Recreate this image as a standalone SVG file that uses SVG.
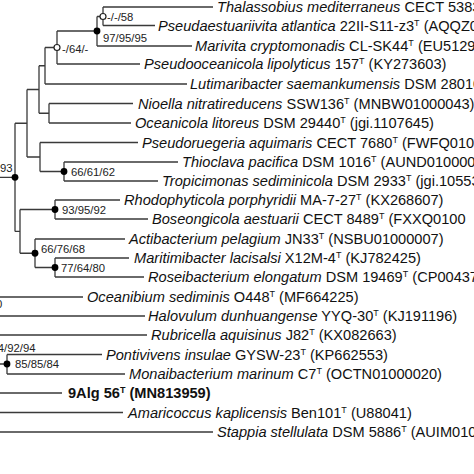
<svg xmlns="http://www.w3.org/2000/svg" width="474" height="474" viewBox="0 0 474 474">
<style>
.br{fill:none;stroke:#3a3a3a;stroke-width:1.3}
.tx{font-family:"Liberation Sans",Arial,sans-serif;font-size:14.6px;fill:#111}
.it{font-style:italic}
.bd{font-weight:bold}
.sp{font-size:9px}
.bs{font-family:"Liberation Sans",Arial,sans-serif;font-size:11.3px;fill:#222}
.on{fill:#fff;stroke:#222;stroke-width:1.2}
.fn{fill:#000}
</style>
<rect width="474" height="474" fill="#fff"/>
<g id="connectors" class="br">
<path d="M97 16.5H103M103 7V25.5M103 7H213M103 25.5H155"/>
<path d="M57 31H97M97 16.5V46M97 46H192"/>
<path d="M45 47.5H57M57 31V64M57 64H140"/>
<path d="M39 65.75H45M45 47.5V84M45 84H187"/>
<path d="M39 113.25H49M49 103.5V123M49 103.5H133M49 123H131"/>
<path d="M27 89.5H39M39 65.75V113.25"/>
<path d="M40 171.5H64M64 162V181M64 162H178M64 181H158"/>
<path d="M27 157H40M40 142.5V171.5M40 142.5H138"/>
<path d="M15 123.25H27M27 89.5V157"/>
<path d="M20 209.5H55M55 200V219M55 200H120M55 219H148"/>
<path d="M35 267.5H55M55 258V277M55 258H129M55 277H144"/>
<path d="M20 253.25H35M35 239V267.5M35 239H125"/>
<path d="M15 231.4H20M20 209.5V253.25"/>
<path d="M-1 177.3H15M15 123.25V231.4"/>
<path d="M-1 297H83M-1 316H145M-1 335H147"/>
<path d="M-1 364H7M7 354.5V374M7 354.5H102M7 374H125"/>
<path d="M-1 393H62M-1 412.5H123M-1 432H213"/>
</g>
<g id="n-A"><circle class="on" cx="103" cy="16.5" r="3"/><text class="bs" x="107" y="20.5">-/-/58</text></g>
<g id="n-B"><circle class="fn" cx="97" cy="31" r="3.4"/><text class="bs" x="103" y="42">97/95/95</text></g>
<g id="n-C"><circle class="on" cx="57" cy="47.5" r="3"/><text class="bs" x="62" y="52.5">-/64/-</text></g>
<g id="n-H"><circle class="fn" cx="64" cy="171.5" r="3.4"/><text class="bs" x="71" y="175.5">66/61/62</text></g>
<g id="n-J"><circle class="fn" cx="15" cy="177.3" r="3.4"/><text class="bs" x="0" y="172">93</text></g>
<g id="n-L"><circle class="fn" cx="55" cy="209.5" r="3.4"/><text class="bs" x="62" y="214">93/95/92</text></g>
<g id="n-M"><circle class="fn" cx="35" cy="253.25" r="3.4"/><text class="bs" x="41" y="253">66/76/68</text></g>
<g id="n-N"><circle class="fn" cx="55" cy="267.5" r="3.4"/><text class="bs" x="61" y="272">77/64/80</text></g>
<g id="n-O"><text class="bs" x="-4" y="308">0</text></g>
<g id="n-Q"><text class="bs" x="-8.5" y="352">94/92/94</text></g>
<g id="n-P"><circle class="fn" cx="7" cy="364" r="3.4"/><text class="bs" x="15" y="368">85/85/84</text></g>
<g id="t01"><text class="tx" x="217" y="12"><tspan class="it">Thalassobius mediterraneus</tspan> CECT 5383</text></g>
<g id="t02"><text class="tx" x="158" y="30.5"><tspan class="it">Pseudaestuariivita atlantica</tspan> 22II-S11-z3<tspan class="sp" dy="-5">T</tspan><tspan dy="5"> (AQQZ01</tspan></text></g>
<g id="t03"><text class="tx" x="195" y="51"><tspan class="it">Marivita cryptomonadis</tspan> CL-SK44<tspan class="sp" dy="-5">T</tspan><tspan dy="5"> (EU5129</tspan></text></g>
<g id="t04"><text class="tx" x="144" y="69"><tspan class="it">Pseudooceanicola lipolyticus</tspan> 157<tspan class="sp" dy="-5">T</tspan><tspan dy="5"> (KY273603)</tspan></text></g>
<g id="t05"><text class="tx" x="190" y="89"><tspan class="it">Lutimaribacter saemankumensis</tspan> DSM 28010</text></g>
<g id="t06"><text class="tx" x="138" y="108.5"><tspan class="it">Nioella nitratireducens</tspan> SSW136<tspan class="sp" dy="-5">T</tspan><tspan dy="5"> (MNBW01000043)</tspan></text></g>
<g id="t07"><text class="tx" x="135" y="128"><tspan class="it">Oceanicola litoreus</tspan> DSM 29440<tspan class="sp" dy="-5">T</tspan><tspan dy="5"> (jgi.1107645)</tspan></text></g>
<g id="t08"><text class="tx" x="142" y="147.5"><tspan class="it">Pseudoruegeria aquimaris</tspan> CECT 7680<tspan class="sp" dy="-5">T</tspan><tspan dy="5"> (FWFQ0100</tspan></text></g>
<g id="t09"><text class="tx" x="182" y="167"><tspan class="it">Thioclava pacifica</tspan> DSM 1016<tspan class="sp" dy="-5">T</tspan><tspan dy="5"> (AUND010000</tspan></text></g>
<g id="t10"><text class="tx" x="162" y="186"><tspan class="it">Tropicimonas sediminicola</tspan> DSM 2933<tspan class="sp" dy="-5">T</tspan><tspan dy="5"> (jgi.10553</tspan></text></g>
<g id="t11"><text class="tx" x="124" y="205"><tspan class="it">Rhodophyticola porphyridii</tspan> MA-7-27<tspan class="sp" dy="-5">T</tspan><tspan dy="5"> (KX268607)</tspan></text></g>
<g id="t12"><text class="tx" x="152" y="224"><tspan class="it">Boseongicola aestuarii</tspan> CECT 8489<tspan class="sp" dy="-5">T</tspan><tspan dy="5"> (FXXQ0100</tspan></text></g>
<g id="t13"><text class="tx" x="129" y="244"><tspan class="it">Actibacterium pelagium</tspan> JN33<tspan class="sp" dy="-5">T</tspan><tspan dy="5"> (NSBU01000007)</tspan></text></g>
<g id="t14"><text class="tx" x="134" y="263"><tspan class="it">Maritimibacter lacisalsi</tspan> X12M-4<tspan class="sp" dy="-5">T</tspan><tspan dy="5"> (KJ782425)</tspan></text></g>
<g id="t15"><text class="tx" x="148" y="282"><tspan class="it">Roseibacterium elongatum</tspan> DSM 19469<tspan class="sp" dy="-5">T</tspan><tspan dy="5"> (CP00437</tspan></text></g>
<g id="t16"><text class="tx" x="87" y="302"><tspan class="it">Oceanibium sediminis</tspan> O448<tspan class="sp" dy="-5">T</tspan><tspan dy="5"> (MF664225)</tspan></text></g>
<g id="t17"><text class="tx" x="148" y="321"><tspan class="it">Halovulum dunhuangense</tspan> YYQ-30<tspan class="sp" dy="-5">T</tspan><tspan dy="5"> (KJ191196)</tspan></text></g>
<g id="t18"><text class="tx" x="151" y="340"><tspan class="it">Rubricella aquisinus</tspan> J82<tspan class="sp" dy="-5">T</tspan><tspan dy="5"> (KX082663)</tspan></text></g>
<g id="t19"><text class="tx" x="106" y="359.5"><tspan class="it">Pontivivens insulae</tspan> GYSW-23<tspan class="sp" dy="-5">T</tspan><tspan dy="5"> (KP662553)</tspan></text></g>
<g id="t20"><text class="tx" x="129" y="379"><tspan class="it">Monaibacterium marinum</tspan> C7<tspan class="sp" dy="-5">T</tspan><tspan dy="5"> (OCTN01000020)</tspan></text></g>
<g id="t21"><text class="tx bd" x="68" y="398">9Alg 56<tspan class="sp" dy="-5">T</tspan><tspan dy="5"> (MN813959)</tspan></text></g>
<g id="t22"><text class="tx" x="128" y="417.5"><tspan class="it">Amaricoccus kaplicensis</tspan> Ben101<tspan class="sp" dy="-5">T</tspan><tspan dy="5"> (U88041)</tspan></text></g>
<g id="t23"><text class="tx" x="217" y="437"><tspan class="it">Stappia stellulata</tspan> DSM 5886<tspan class="sp" dy="-5">T</tspan><tspan dy="5"> (AUIM010</tspan></text></g>
</svg>
